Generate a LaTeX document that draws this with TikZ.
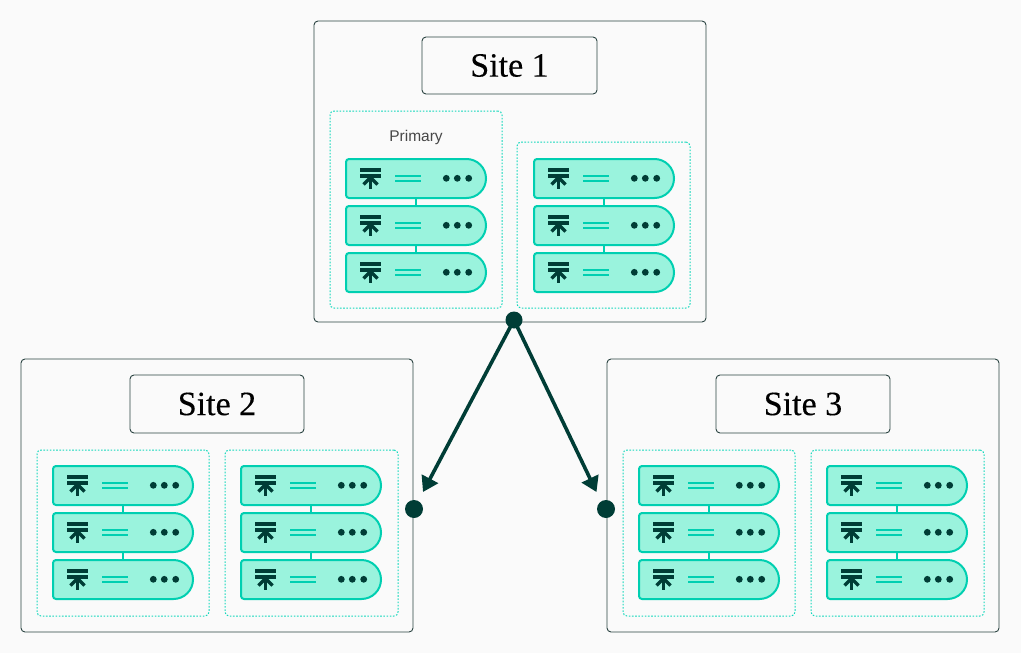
\documentclass[tikz,border=0pt]{standalone}
\usepackage{fontspec}
\setmainfont{Liberation Serif}
\newfontfamily\titlefont[FakeBold=0.25]{Liberation Serif}
\newfontfamily\labelfont{Liberation Sans}
\usetikzlibrary{arrows.meta}
\definecolor{bgc}{HTML}{FAFAFA}
\definecolor{darkteal}{HTML}{003D36}
\definecolor{edgec}{HTML}{2A4341}
\definecolor{pillfill}{HTML}{9AF3DD}
\definecolor{pillline}{HTML}{00CFB1}
\definecolor{dotc}{HTML}{14D8BC}
\tikzset{
  sitebox/.style={draw=edgec,line width=0.9pt,rounded corners=4pt,inner sep=0pt,outer sep=0pt,anchor=north west},
  titlebox/.style={sitebox,font=\titlefont\fontsize{34}{36}\selectfont,text=black},
  groupbox/.style={draw=dotc,line width=1pt,dash pattern=on 1.6pt off 1.6pt,rounded corners=4pt,inner sep=0pt,outer sep=0pt,anchor=north west},
  pillanchor/.style={inner sep=0pt,outer sep=0pt,minimum width=140pt,minimum height=39pt,anchor=north west},
  pillshape/.style={draw=pillline,fill=pillfill,line width=2pt},
  link/.style={draw=pillline,line width=1.6pt},
  iconbar/.style={fill=darkteal},
  iconleg/.style={draw=darkteal,line width=3.2pt},
  midline/.style={draw=pillline,line width=1.9pt},
  hub/.style={circle,fill=darkteal,inner sep=0pt,outer sep=0pt},
  flow/.style={draw=darkteal,line width=3.6pt,-{Triangle[length=15pt,width=18pt]}},
}
% one server: name, left, top
\newcommand{\srvpill}[3]{%
  \node[pillanchor] (#1) at (#2,#3) {};
  \begin{scope}[shift={(#2,#3)}]
    \draw[pillshape] (3,0) -- (120.5,0) arc[start angle=-90,end angle=90,radius=19.5] -- (3,39)
      arc[start angle=90,end angle=180,radius=3] -- (0,3) arc[start angle=180,end angle=270,radius=3] -- cycle;
    \fill[iconbar] (14,9) rectangle (35,13);
    \fill[iconbar] (14,15.3) -- (35,15.3) -- (35,19.3) -- (14,19.3) -- cycle;
    \draw[iconleg] (24.5,18) -- (24.5,29.5);
    \draw[iconleg] (24.5,18.5) -- (17.5,25.5);
    \draw[iconleg] (24.5,18.5) -- (31.5,25.5);
    \draw[midline] (49,16.7) -- (75,16.7);
    \draw[midline] (49,22) -- (75,22);
    \fill[darkteal] (100.3,19.3) circle (3.4);
    \fill[darkteal] (111.3,19.3) circle (3.4);
    \fill[darkteal] (122.7,19.3) circle (3.4);
  \end{scope}}
% three linked servers: prefix, left, top
\newcommand{\srvstack}[3]{%
  \srvpill{#1a}{#2}{#3}
  \srvpill{#1b}{#2}{#3+47}
  \srvpill{#1c}{#2}{#3+94}
  \draw[link] (#1a.south) -- (#1b.north);
  \draw[link] (#1b.south) -- (#1c.north);}
\begin{document}
\begin{tikzpicture}[x=1pt,y=-1pt]
\useasboundingbox[fill=bgc] (0,0) rectangle (1021,653);
% Site 1
\node[sitebox,minimum width=392pt,minimum height=301pt] (site1) at (314,21) {};
\node[titlebox,minimum width=175pt,minimum height=57pt] (title1) at (422,37) {Site 1};
\node[groupbox,minimum width=172pt,minimum height=197pt] (g1a) at (330,111) {};
\node[groupbox,minimum width=173pt,minimum height=166pt] (g1b) at (517,142) {};
\node[font=\labelfont\fontsize{15.5}{17}\selectfont,text=black!72] (primary) at (416,137.5) {Primary};
\srvstack{s1a}{346}{159}
\srvstack{s1b}{534}{159}
% Site 2
\node[sitebox,minimum width=392pt,minimum height=273pt] (site2) at (21,359) {};
\node[titlebox,minimum width=174pt,minimum height=58pt] (title2) at (130,375) {Site 2};
\node[groupbox,minimum width=172pt,minimum height=166pt] (g2a) at (37,450) {};
\node[groupbox,minimum width=173pt,minimum height=166pt] (g2b) at (225,450) {};
\srvstack{s2a}{53}{466}
\srvstack{s2b}{241}{466}
% Site 3
\node[sitebox,minimum width=392pt,minimum height=273pt] (site3) at (607,359) {};
\node[titlebox,minimum width=174pt,minimum height=58pt] (title3) at (716,375) {Site 3};
\node[groupbox,minimum width=172pt,minimum height=166pt] (g3a) at (623,450) {};
\node[groupbox,minimum width=173pt,minimum height=166pt] (g3b) at (811,450) {};
\srvstack{s3a}{639}{466}
\srvstack{s3b}{827}{466}
% Connectors
\node[hub,minimum size=17pt] (hubtop) at (514,320) {};
\node[hub,minimum size=18pt] (hubleft) at (414,509) {};
\node[hub,minimum size=18pt] (hubright) at (606,509) {};
\coordinate (tipleft) at (423,492);
\coordinate (tipright) at (596.5,492);
\draw[flow] (hubtop.center) -- (tipleft);
\draw[flow] (hubtop.center) -- (tipright);
\end{tikzpicture}
\end{document}
